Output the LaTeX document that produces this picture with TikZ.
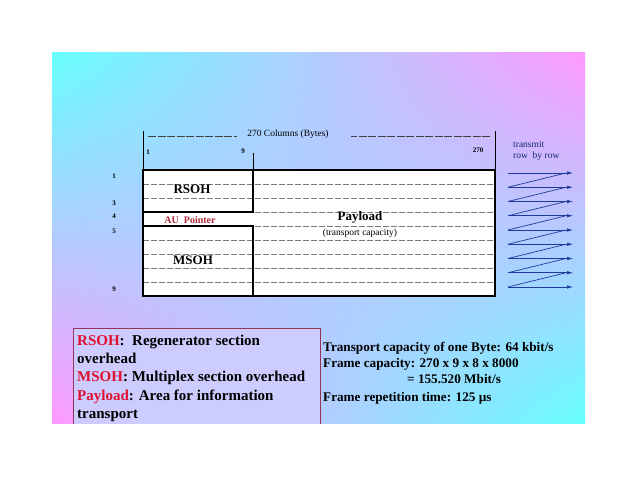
\documentclass[tikz,border=0pt]{standalone}
\usepackage{fontspec}
\setmainfont{Liberation Serif}
\usepackage{tikz}
\usetikzlibrary{
  arrows.meta,
  positioning,
  calc
}
\definecolor{slidecyan}{HTML}{66FFFF}
\definecolor{slidepink}{HTML}{FF99FF}
\definecolor{arrowblue}{HTML}{1F3A9A}
\definecolor{legendfill}{HTML}{CCCCFF}
\definecolor{legendline}{HTML}{993355}
\definecolor{keyred}{HTML}{E01030}
\definecolor{ptrred}{HTML}{B02838}
\definecolor{rowgray}{HTML}{7A7A7A}
\newcommand{\fs}[1]{\fontsize{#1}{#1}\selectfont}

\begin{document}
\begin{tikzpicture}[
  x=1pt, y=-1pt,
  num/.style={font=\fs{7}\bfseries, inner sep=0pt},
  area/.style={font=\fs{13}\bfseries, inner sep=0pt},
  rowdash/.style={draw=rowgray, dash pattern=on 6pt off 2pt, line width=0.5pt},
  frameline/.style={draw, line width=1.4pt},
  colmark/.style={draw, line width=0.6pt},
  hdash/.style={draw=black!75, dash pattern=on 8pt off 1.5pt, line width=0.5pt},
  zig/.style={draw=arrowblue, line width=0.7pt},
  keytext/.style={font=\fs{15}\bfseries, inner sep=0pt, anchor=base west},
  fact/.style={font=\fs{13.2}\bfseries, inner sep=0pt, anchor=base west},
]
  % Slide background
  \useasboundingbox (0,0) rectangle (638,478);
  \fill[white] (0,0) rectangle (638,478);
  \foreach \s in {0,...,52} {
    \pgfmathsetmacro\p{100*(\s+0.5)/53}
    \shade[left color=slidepink!\p!slidecyan, right color=slidecyan!\p!slidepink]
      (52,{53+7*\s}) rectangle (585,{60.4+7*\s});
  }
  \fill[white] (52,424) rectangle (585,430);

  % Column header
  \node[font=\fs{9.5}, inner sep=0pt] (columns) at (288,134) {270 Columns (Bytes)};
  \coordinate (hl) at (148,136);
  \coordinate (hr) at (490,136);
  \draw[hdash] (hl) -- (hl -| {$(columns.west)+(-10,0)$});
  \draw[hdash] (hr) -- (hr -| {$(columns.east)+(22,0)$});
  \node[num] (c1) at (148,152) {1};
  \node[num] (c9) at (243,151) {9};
  \node[num] (c270) at (478,150) {270};

  % Frame
  \fill[white] (143,170) rectangle (495,296);
  \foreach \k in {1,...,8}
    \draw[rowdash] (143,{170+14*\k}) -- (495,{170+14*\k});
  \draw[frameline] (143,170) rectangle (495,296);
  \draw[frameline] (143,170) rectangle (253,212);
  \draw[frameline] (143,226) rectangle (253,296);
  \draw[colmark] (143,131) -- (143,170);
  \draw[colmark] (495,131) -- (495,170);
  \draw[colmark] (253,153) -- (253,170);

  % Row numbers
  \node[num] (r1) at (114,176) {1};
  \node[num] (r3) at (114,203) {3};
  \node[num] (r4) at (114,216) {4};
  \node[num] (r5) at (114,231) {5};
  \node[num] (r9) at (114,289) {9};

  % Areas
  \node[area] (rsoh) at (192,189) {RSOH};
  \node[font=\fs{10}\bfseries, text=ptrred, inner sep=0pt] (aupointer) at (190,220) {AU\ \ Pointer};
  \node[area] (msoh) at (193,260) {MSOH};
  \node[area] (payload) at (360,217) {Payload};
  \node[font=\fs{9.5}, inner sep=0pt, below=6pt of payload] (capacity) {(transport capacity)};

  % Transmission order
  \node[font=\fs{9.5}, text=arrowblue!70!black, align=left, inner sep=0pt, anchor=west] (transmit)
    at (513,151) {transmit\\[1pt]row\ \ by row};
  \foreach \i in {0,...,8} {
    \coordinate (a\i) at (508,{173+14.25*\i});
    \coordinate (b\i) at (573,{173+14.25*\i});
    \coordinate (d\i) at (566,{173+14.25*\i});
    \draw[zig, -{Latex[length=6pt,width=3.5pt]}] (a\i) -- (b\i);
  }
  \foreach \i [evaluate=\i as \j using int(\i+1)] in {0,...,7}
    \draw[zig] (d\i) -- (a\j);

  % Legend
  \draw[legendline, fill=legendfill, line width=0.8pt] (73,424) -- (73,328) -- (320,328) -- (320,424);
  \node[keytext] (k1) at (77,346) {\textcolor{keyred}{RSOH}:\ \ Regenerator section};
  \node[keytext] (k2) at (77,364) {overhead};
  \node[keytext] (k3) at (77,382) {\textcolor{keyred}{MSOH}: Multiplex section overhead};
  \node[keytext] (k4) at (77,401) {\textcolor{keyred}{Payload}: Area for information};
  \node[keytext] (k5) at (77,419) {transport};

  % Facts
  \node[fact] (f1) at (323,352) {Transport capacity of one Byte: 64 kbit/s};
  \node[fact] (f2) at (323,368) {Frame capacity: 270 x 9 x 8 x 8000};
  \node[fact] (f3) at (407,384) {= 155.520 Mbit/s};
  \node[fact] (f4) at (323,402) {Frame repetition time: 125 µs};
\end{tikzpicture}
\end{document}
